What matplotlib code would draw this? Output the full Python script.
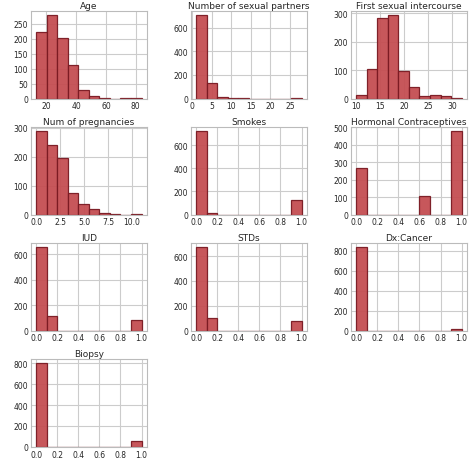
import numpy as np
import matplotlib
matplotlib.use("Agg")
import matplotlib.pyplot as plt
from matplotlib.ticker import MultipleLocator
import seaborn as sns

sns.set_style("whitegrid")

titles = ["Age", "Number of sexual partners", "First sexual intercourse",
          "Num of pregnancies", "Smokes", "Hormonal Contraceptives",
          "IUD", "STDs", "Dx:Cancer", "Biopsy"]
ranges = [(13, 84), (1, 28), (10, 32), (0, 11), (0, 1), (0, 1),
          (0, 1), (0, 1), (0, 1), (0, 1)]
counts = [
    [222, 280, 202, 112, 29, 7, 2, 0, 2, 2],
    [710, 128, 12, 2, 1, 0, 0, 0, 0, 1],
    [12, 103, 283, 295, 96, 40, 8, 14, 8, 2],
    [287, 240, 195, 75, 35, 18, 5, 2, 0, 2],
    [722, 15, 0, 0, 0, 0, 0, 0, 0, 123],
    [268, 0, 0, 0, 0, 0, 105, 0, 0, 480],
    [658, 115, 0, 0, 0, 0, 0, 0, 0, 83],
    [674, 100, 0, 0, 0, 0, 0, 0, 0, 77],
    [840, 0, 0, 0, 0, 0, 0, 0, 0, 18],
    [803, 0, 0, 0, 0, 0, 0, 0, 0, 55],
]
xticks = [[20, 40, 60, 80], [0, 5, 10, 15, 20, 25], [10, 15, 20, 25, 30],
          [0, 2.5, 5, 7.5, 10]] + [[0, 0.2, 0.4, 0.6, 0.8, 1.0]] * 6
ysteps = [50, 200, 100, 100, 200, 100, 200, 200, 200, 200]

fig, axes = plt.subplots(4, 3, figsize=(4.74, 4.64), dpi=100)
axes = axes.ravel()
for i, ax in enumerate(axes):
    if i >= len(titles):
        ax.axis("off")
        continue
    lo, hi = ranges[i]
    edges = np.linspace(lo, hi, 11)
    ax.bar(edges[:-1], counts[i], width=np.diff(edges), align="edge",
           color="#c44e52", edgecolor="#7a1a22", linewidth=0.9, alpha=0.95)
    ax.set_xticks(xticks[i])
    if i == 3:
        ax.set_xticklabels(["0.0", "2.5", "5.0", "7.5", "10.0"])
        ax.set_ylim(0, 303)
    if i >= 4:
        ax.set_xticklabels(["0.0", "0.2", "0.4", "0.6", "0.8", "1.0"])
    ax.yaxis.set_major_locator(MultipleLocator(ysteps[i]))
    ax.set_title(titles[i], fontsize=6.5, pad=2)
    ax.tick_params(labelsize=5.5, pad=2, length=0)
    ax.grid(True, color="#cccccc", linewidth=0.8)
    for s in ax.spines.values():
        s.set_color("#bbbbbb")
    ax.set_axisbelow(True)

fig.subplots_adjust(left=0.065, right=0.985, top=0.975, bottom=0.035,
                    wspace=0.38, hspace=0.32)
fig.savefig("out.png", dpi=100)
